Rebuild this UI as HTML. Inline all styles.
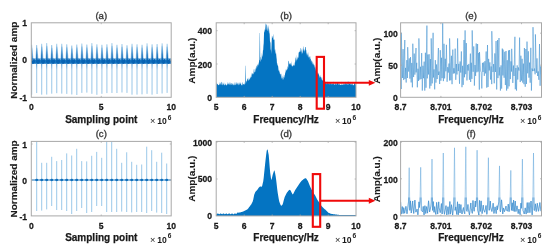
<!DOCTYPE html>
<html><head><meta charset="utf-8"><style>
html,body{margin:0;padding:0;background:#fff;}
svg{display:block;font-family:'Liberation Sans', Arial, sans-serif;}
</style></head><body>
<svg width="550" height="250" viewBox="0 0 550 250">
<rect width="550" height="250" fill="#fff"/>
<defs>
<clipPath id="c0t"><rect x="31.3" y="22.8" width="139.9" height="74.5"/></clipPath>
<clipPath id="c0b"><rect x="31.3" y="141.4" width="139.9" height="74.5"/></clipPath>
<clipPath id="c1t"><rect x="216.2" y="22.8" width="139.8" height="74.5"/></clipPath>
<clipPath id="c1b"><rect x="216.2" y="141.4" width="139.8" height="74.5"/></clipPath>
<clipPath id="c2t"><rect x="400.6" y="22.8" width="140.9" height="74.5"/></clipPath>
<clipPath id="c2b"><rect x="400.6" y="141.4" width="140.9" height="74.5"/></clipPath>
<linearGradient id="spk" gradientUnits="userSpaceOnUse" x1="0" y1="59.5" x2="0" y2="43"><stop offset="0" stop-color="#0867b6"/><stop offset="0.3" stop-color="#1a76c1"/><stop offset="0.65" stop-color="#5aa2d8"/><stop offset="1" stop-color="#9ccae9"/></linearGradient>
<linearGradient id="dwn" gradientUnits="userSpaceOnUse" x1="0" y1="63.5" x2="0" y2="70"><stop offset="0" stop-color="#3385c8"/><stop offset="1" stop-color="#93c3e6"/></linearGradient>
<clipPath id="c2bn"><rect x="400.6" y="197.5" width="140.9" height="18.4"/></clipPath>
</defs>
<g clip-path="url(#c0t)">
<rect x="31.3" y="58.4" width="139.9" height="1.4" fill="#4c97d3"/>
<rect x="31.3" y="59.6" width="139.9" height="4.2" fill="#1874bf"/>
<path d="M31.7 63.5V94.74" stroke="url(#dwn)" stroke-width="0.95"/>
<ellipse cx="33" cy="61.2" rx="1.9" ry="2.7" fill="#0763b3"/>
<path d="M30.1 60L31.2 47.63H32.3L33.7 60Z" fill="#7db5e0" opacity="0.55"/>
<path d="M31.05 60L31.3 44.63H32.1L32.65 60Z" fill="url(#spk)"/>
<path d="M36.71 63.5V93.06" stroke="url(#dwn)" stroke-width="0.95"/>
<ellipse cx="38.01" cy="61.2" rx="1.9" ry="2.7" fill="#0763b3"/>
<path d="M35.11 60L36.21 48.02H37.31L38.71 60Z" fill="#7db5e0" opacity="0.55"/>
<path d="M36.06 60L36.31 45.02H37.11L37.66 60Z" fill="url(#spk)"/>
<path d="M41.73 63.5V94.68" stroke="url(#dwn)" stroke-width="0.95"/>
<ellipse cx="43.03" cy="61.2" rx="1.9" ry="2.7" fill="#0763b3"/>
<path d="M40.13 60L41.23 46.78H42.33L43.73 60Z" fill="#7db5e0" opacity="0.55"/>
<path d="M41.08 60L41.33 43.78H42.13L42.68 60Z" fill="url(#spk)"/>
<path d="M46.74 63.5V94.55" stroke="url(#dwn)" stroke-width="0.95"/>
<ellipse cx="48.04" cy="61.2" rx="1.9" ry="2.7" fill="#0763b3"/>
<path d="M45.14 60L46.24 46.01H47.34L48.74 60Z" fill="#7db5e0" opacity="0.55"/>
<path d="M46.09 60L46.34 43.01H47.14L47.7 60Z" fill="url(#spk)"/>
<path d="M51.76 63.5V93.67" stroke="url(#dwn)" stroke-width="0.95"/>
<ellipse cx="53.06" cy="61.2" rx="1.9" ry="2.7" fill="#0763b3"/>
<path d="M50.16 60L51.26 48.07H52.36L53.76 60Z" fill="#7db5e0" opacity="0.55"/>
<path d="M51.11 60L51.36 45.07H52.16L52.71 60Z" fill="url(#spk)"/>
<path d="M56.77 63.5V93.2" stroke="url(#dwn)" stroke-width="0.95"/>
<ellipse cx="58.07" cy="61.2" rx="1.9" ry="2.7" fill="#0763b3"/>
<path d="M55.17 60L56.27 46.79H57.38L58.77 60Z" fill="#7db5e0" opacity="0.55"/>
<path d="M56.12 60L56.38 43.79H57.17L57.73 60Z" fill="url(#spk)"/>
<path d="M61.79 63.5V93.61" stroke="url(#dwn)" stroke-width="0.95"/>
<ellipse cx="63.09" cy="61.2" rx="1.9" ry="2.7" fill="#0763b3"/>
<path d="M60.19 60L61.29 46.66H62.39L63.79 60Z" fill="#7db5e0" opacity="0.55"/>
<path d="M61.14 60L61.39 43.66H62.19L62.74 60Z" fill="url(#spk)"/>
<path d="M66.8 63.5V93.88" stroke="url(#dwn)" stroke-width="0.95"/>
<ellipse cx="68.1" cy="61.2" rx="1.9" ry="2.7" fill="#0763b3"/>
<path d="M65.2 60L66.3 47.31H67.4L68.8 60Z" fill="#7db5e0" opacity="0.55"/>
<path d="M66.15 60L66.4 44.31H67.2L67.75 60Z" fill="url(#spk)"/>
<path d="M71.82 63.5V94.48" stroke="url(#dwn)" stroke-width="0.95"/>
<ellipse cx="73.12" cy="61.2" rx="1.9" ry="2.7" fill="#0763b3"/>
<path d="M70.22 60L71.32 48.59H72.42L73.82 60Z" fill="#7db5e0" opacity="0.55"/>
<path d="M71.17 60L71.42 45.59H72.22L72.77 60Z" fill="url(#spk)"/>
<path d="M76.83 63.5V94.97" stroke="url(#dwn)" stroke-width="0.95"/>
<ellipse cx="78.13" cy="61.2" rx="1.9" ry="2.7" fill="#0763b3"/>
<path d="M75.23 60L76.33 47.62H77.43L78.83 60Z" fill="#7db5e0" opacity="0.55"/>
<path d="M76.18 60L76.43 44.62H77.23L77.78 60Z" fill="url(#spk)"/>
<path d="M81.85 63.5V92.9" stroke="url(#dwn)" stroke-width="0.95"/>
<ellipse cx="83.15" cy="61.2" rx="1.9" ry="2.7" fill="#0763b3"/>
<path d="M80.25 60L81.35 46.56H82.45L83.85 60Z" fill="#7db5e0" opacity="0.55"/>
<path d="M81.2 60L81.45 43.56H82.25L82.8 60Z" fill="url(#spk)"/>
<path d="M86.86 63.5V92.61" stroke="url(#dwn)" stroke-width="0.95"/>
<ellipse cx="88.16" cy="61.2" rx="1.9" ry="2.7" fill="#0763b3"/>
<path d="M85.27 60L86.36 47.59H87.46L88.86 60Z" fill="#7db5e0" opacity="0.55"/>
<path d="M86.21 60L86.46 44.59H87.27L87.81 60Z" fill="url(#spk)"/>
<path d="M91.88 63.5V93.79" stroke="url(#dwn)" stroke-width="0.95"/>
<ellipse cx="93.18" cy="61.2" rx="1.9" ry="2.7" fill="#0763b3"/>
<path d="M90.28 60L91.38 46.09H92.48L93.88 60Z" fill="#7db5e0" opacity="0.55"/>
<path d="M91.23 60L91.48 43.09H92.28L92.83 60Z" fill="url(#spk)"/>
<path d="M96.89 63.5V94.79" stroke="url(#dwn)" stroke-width="0.95"/>
<ellipse cx="98.19" cy="61.2" rx="1.9" ry="2.7" fill="#0763b3"/>
<path d="M95.3 60L96.39 47.21H97.49L98.89 60Z" fill="#7db5e0" opacity="0.55"/>
<path d="M96.24 60L96.49 44.21H97.3L97.84 60Z" fill="url(#spk)"/>
<path d="M101.91 63.5V93.79" stroke="url(#dwn)" stroke-width="0.95"/>
<ellipse cx="103.21" cy="61.2" rx="1.9" ry="2.7" fill="#0763b3"/>
<path d="M100.31 60L101.41 47.64H102.51L103.91 60Z" fill="#7db5e0" opacity="0.55"/>
<path d="M101.26 60L101.51 44.64H102.31L102.86 60Z" fill="url(#spk)"/>
<path d="M106.92 63.5V93.12" stroke="url(#dwn)" stroke-width="0.95"/>
<ellipse cx="108.22" cy="61.2" rx="1.9" ry="2.7" fill="#0763b3"/>
<path d="M105.33 60L106.42 47.29H107.52L108.92 60Z" fill="#7db5e0" opacity="0.55"/>
<path d="M106.27 60L106.52 44.29H107.33L107.88 60Z" fill="url(#spk)"/>
<path d="M111.94 63.5V92.98" stroke="url(#dwn)" stroke-width="0.95"/>
<ellipse cx="113.24" cy="61.2" rx="1.9" ry="2.7" fill="#0763b3"/>
<path d="M110.34 60L111.44 46.03H112.54L113.94 60Z" fill="#7db5e0" opacity="0.55"/>
<path d="M111.29 60L111.54 43.03H112.34L112.89 60Z" fill="url(#spk)"/>
<path d="M116.95 63.5V93" stroke="url(#dwn)" stroke-width="0.95"/>
<ellipse cx="118.25" cy="61.2" rx="1.9" ry="2.7" fill="#0763b3"/>
<path d="M115.36 60L116.45 47.8H117.55L118.95 60Z" fill="#7db5e0" opacity="0.55"/>
<path d="M116.3 60L116.55 44.8H117.36L117.91 60Z" fill="url(#spk)"/>
<path d="M121.97 63.5V92.51" stroke="url(#dwn)" stroke-width="0.95"/>
<ellipse cx="123.27" cy="61.2" rx="1.9" ry="2.7" fill="#0763b3"/>
<path d="M120.37 60L121.47 46.96H122.57L123.97 60Z" fill="#7db5e0" opacity="0.55"/>
<path d="M121.32 60L121.57 43.96H122.37L122.92 60Z" fill="url(#spk)"/>
<path d="M126.98 63.5V92.89" stroke="url(#dwn)" stroke-width="0.95"/>
<ellipse cx="128.28" cy="61.2" rx="1.9" ry="2.7" fill="#0763b3"/>
<path d="M125.39 60L126.48 48.16H127.58L128.99 60Z" fill="#7db5e0" opacity="0.55"/>
<path d="M126.33 60L126.58 45.16H127.39L127.94 60Z" fill="url(#spk)"/>
<path d="M132 63.5V94.7" stroke="url(#dwn)" stroke-width="0.95"/>
<ellipse cx="133.3" cy="61.2" rx="1.9" ry="2.7" fill="#0763b3"/>
<path d="M130.4 60L131.5 46.7H132.6L134 60Z" fill="#7db5e0" opacity="0.55"/>
<path d="M131.35 60L131.6 43.7H132.4L132.95 60Z" fill="url(#spk)"/>
<path d="M137.01 63.5V94.62" stroke="url(#dwn)" stroke-width="0.95"/>
<ellipse cx="138.31" cy="61.2" rx="1.9" ry="2.7" fill="#0763b3"/>
<path d="M135.41 60L136.51 47.33H137.61L139.01 60Z" fill="#7db5e0" opacity="0.55"/>
<path d="M136.36 60L136.61 44.33H137.41L137.96 60Z" fill="url(#spk)"/>
<path d="M142.03 63.5V94.35" stroke="url(#dwn)" stroke-width="0.95"/>
<ellipse cx="143.33" cy="61.2" rx="1.9" ry="2.7" fill="#0763b3"/>
<path d="M140.43 60L141.53 47.66H142.63L144.03 60Z" fill="#7db5e0" opacity="0.55"/>
<path d="M141.38 60L141.63 44.66H142.43L142.98 60Z" fill="url(#spk)"/>
<path d="M147.04 63.5V93.85" stroke="url(#dwn)" stroke-width="0.95"/>
<ellipse cx="148.34" cy="61.2" rx="1.9" ry="2.7" fill="#0763b3"/>
<path d="M145.44 60L146.54 46.24H147.64L149.04 60Z" fill="#7db5e0" opacity="0.55"/>
<path d="M146.39 60L146.64 43.24H147.44L147.99 60Z" fill="url(#spk)"/>
<path d="M152.06 63.5V94.68" stroke="url(#dwn)" stroke-width="0.95"/>
<ellipse cx="153.36" cy="61.2" rx="1.9" ry="2.7" fill="#0763b3"/>
<path d="M150.46 60L151.56 47.32H152.66L154.06 60Z" fill="#7db5e0" opacity="0.55"/>
<path d="M151.41 60L151.66 44.32H152.46L153.01 60Z" fill="url(#spk)"/>
<path d="M157.07 63.5V94" stroke="url(#dwn)" stroke-width="0.95"/>
<ellipse cx="158.38" cy="61.2" rx="1.9" ry="2.7" fill="#0763b3"/>
<path d="M155.47 60L156.57 46.94H157.67L159.07 60Z" fill="#7db5e0" opacity="0.55"/>
<path d="M156.42 60L156.67 43.94H157.47L158.02 60Z" fill="url(#spk)"/>
<path d="M162.09 63.5V93.47" stroke="url(#dwn)" stroke-width="0.95"/>
<ellipse cx="163.39" cy="61.2" rx="1.9" ry="2.7" fill="#0763b3"/>
<path d="M160.49 60L161.59 46.15H162.69L164.09 60Z" fill="#7db5e0" opacity="0.55"/>
<path d="M161.44 60L161.69 43.15H162.49L163.04 60Z" fill="url(#spk)"/>
<path d="M167.1 63.5V92.88" stroke="url(#dwn)" stroke-width="0.95"/>
<ellipse cx="168.41" cy="61.2" rx="1.9" ry="2.7" fill="#0763b3"/>
<path d="M165.5 60L166.6 46.84H167.7L169.1 60Z" fill="#7db5e0" opacity="0.55"/>
<path d="M166.45 60L166.7 43.84H167.5L168.05 60Z" fill="url(#spk)"/>
</g>
<g clip-path="url(#c0b)">
<path d="M36.7 141.1V211" stroke="#96c6e8" stroke-width="0.95"/>
<path d="M41.7 162.8V210.6" stroke="#96c6e8" stroke-width="0.95"/>
<path d="M46.7 162.8V209.4" stroke="#96c6e8" stroke-width="0.95"/>
<path d="M51.7 156.8V206" stroke="#96c6e8" stroke-width="0.95"/>
<path d="M56.7 161.1V210" stroke="#96c6e8" stroke-width="0.95"/>
<path d="M61.7 160V210" stroke="#96c6e8" stroke-width="0.95"/>
<path d="M66.7 153.4V211" stroke="#96c6e8" stroke-width="0.95"/>
<path d="M71.7 155.5V214" stroke="#96c6e8" stroke-width="0.95"/>
<path d="M76.7 148.8V211" stroke="#96c6e8" stroke-width="0.95"/>
<path d="M81.7 161.1V208" stroke="#96c6e8" stroke-width="0.95"/>
<path d="M86.7 161.4V213" stroke="#96c6e8" stroke-width="0.95"/>
<path d="M91.7 155.8V212" stroke="#96c6e8" stroke-width="0.95"/>
<path d="M96.7 151.9V206" stroke="#96c6e8" stroke-width="0.95"/>
<path d="M101.7 157.8V206" stroke="#96c6e8" stroke-width="0.95"/>
<path d="M106.7 141.1V212" stroke="#96c6e8" stroke-width="0.95"/>
<path d="M111.7 141.8V212" stroke="#96c6e8" stroke-width="0.95"/>
<path d="M116.7 148.8V212" stroke="#96c6e8" stroke-width="0.95"/>
<path d="M121.7 162.8V211.6" stroke="#96c6e8" stroke-width="0.95"/>
<path d="M126.7 152.3V212" stroke="#96c6e8" stroke-width="0.95"/>
<path d="M131.7 161.8V212.4" stroke="#96c6e8" stroke-width="0.95"/>
<path d="M136.7 164.8V212" stroke="#96c6e8" stroke-width="0.95"/>
<path d="M141.7 164.5V212" stroke="#96c6e8" stroke-width="0.95"/>
<path d="M146.7 146.7V213" stroke="#96c6e8" stroke-width="0.95"/>
<path d="M151.7 150.2V211" stroke="#96c6e8" stroke-width="0.95"/>
<path d="M156.7 161.8V212.6" stroke="#96c6e8" stroke-width="0.95"/>
<path d="M161.7 152.7V213" stroke="#96c6e8" stroke-width="0.95"/>
<path d="M166.7 163.5V214" stroke="#96c6e8" stroke-width="0.95"/>
<path d="M31.3 180H171.2" stroke="#1a76c0" stroke-width="1.05"/>
<ellipse cx="36.7" cy="180" rx="1.5" ry="1.15" fill="#0d6dba"/>
<ellipse cx="41.7" cy="180" rx="1.5" ry="1.15" fill="#0d6dba"/>
<ellipse cx="46.7" cy="180" rx="1.5" ry="1.15" fill="#0d6dba"/>
<ellipse cx="51.7" cy="180" rx="1.5" ry="1.15" fill="#0d6dba"/>
<ellipse cx="56.7" cy="180" rx="1.5" ry="1.15" fill="#0d6dba"/>
<ellipse cx="61.7" cy="180" rx="1.5" ry="1.15" fill="#0d6dba"/>
<ellipse cx="66.7" cy="180" rx="1.5" ry="1.15" fill="#0d6dba"/>
<ellipse cx="71.7" cy="180" rx="1.5" ry="1.15" fill="#0d6dba"/>
<ellipse cx="76.7" cy="180" rx="1.5" ry="1.15" fill="#0d6dba"/>
<ellipse cx="81.7" cy="180" rx="1.5" ry="1.15" fill="#0d6dba"/>
<ellipse cx="86.7" cy="180" rx="1.5" ry="1.15" fill="#0d6dba"/>
<ellipse cx="91.7" cy="180" rx="1.5" ry="1.15" fill="#0d6dba"/>
<ellipse cx="96.7" cy="180" rx="1.5" ry="1.15" fill="#0d6dba"/>
<ellipse cx="101.7" cy="180" rx="1.5" ry="1.15" fill="#0d6dba"/>
<ellipse cx="106.7" cy="180" rx="1.5" ry="1.15" fill="#0d6dba"/>
<ellipse cx="111.7" cy="180" rx="1.5" ry="1.15" fill="#0d6dba"/>
<ellipse cx="116.7" cy="180" rx="1.5" ry="1.15" fill="#0d6dba"/>
<ellipse cx="121.7" cy="180" rx="1.5" ry="1.15" fill="#0d6dba"/>
<ellipse cx="126.7" cy="180" rx="1.5" ry="1.15" fill="#0d6dba"/>
<ellipse cx="131.7" cy="180" rx="1.5" ry="1.15" fill="#0d6dba"/>
<ellipse cx="136.7" cy="180" rx="1.5" ry="1.15" fill="#0d6dba"/>
<ellipse cx="141.7" cy="180" rx="1.5" ry="1.15" fill="#0d6dba"/>
<ellipse cx="146.7" cy="180" rx="1.5" ry="1.15" fill="#0d6dba"/>
<ellipse cx="151.7" cy="180" rx="1.5" ry="1.15" fill="#0d6dba"/>
<ellipse cx="156.7" cy="180" rx="1.5" ry="1.15" fill="#0d6dba"/>
<ellipse cx="161.7" cy="180" rx="1.5" ry="1.15" fill="#0d6dba"/>
<ellipse cx="166.7" cy="180" rx="1.5" ry="1.15" fill="#0d6dba"/>
</g>
<g clip-path="url(#c1t)"><polygon points="216.2,97.3 216.2,82.77 216.45,84.92 216.7,81.48 216.95,84.11 217.2,84.04 217.45,83.87 217.7,83.66 217.95,85.34 218.2,84.73 218.45,85.23 218.7,84.85 218.95,85.38 219.2,81.57 219.45,85.26 219.7,83.69 219.95,85.11 220.2,82.34 220.45,83.74 220.7,85.36 220.95,82.56 221.2,81.77 221.45,82.11 221.7,84.21 221.95,85.35 222.2,85.3 222.45,81.91 222.7,84.29 222.95,85.31 223.2,82.26 223.45,83.85 223.7,84.21 223.95,84.93 224.2,84.82 224.45,85.23 224.7,85.4 224.95,82.32 225.2,84.63 225.45,84.31 225.7,85.06 225.95,83.21 226.2,85.4 226.45,84.94 226.7,85.4 226.95,85.36 227.2,81.58 227.45,83.77 227.7,84.77 227.95,84.41 228.2,82.35 228.45,85.01 228.7,84.11 228.95,83.62 229.2,84.98 229.45,84.43 229.7,83.12 229.95,82.06 230.2,85.34 230.45,81.86 230.7,85.4 230.95,83.2 231.2,82.81 231.45,85.35 231.7,84.8 231.95,82.78 232.2,85.4 232.45,83.92 232.7,82.93 232.95,84.46 233.2,83.37 233.45,85.25 233.7,85.29 233.95,84.96 234.2,85.31 234.45,85.01 234.7,81.74 234.95,84.19 235.2,85.02 235.45,85.17 235.7,81.71 235.95,84.71 236.2,81.46 236.45,84.45 236.7,84.42 236.95,82.16 237.2,83.26 237.45,84.16 237.7,84.77 237.95,82.31 238.2,84.82 238.45,81.95 238.7,85.39 238.95,84.76 239.2,84.43 239.45,81.72 239.7,85.21 239.95,82.84 240.2,83.66 240.45,83.42 240.7,83.92 240.95,81.54 241.2,85.04 241.45,84.86 241.7,85.28 241.95,85.4 242.2,85.27 242.45,82.01 242.7,82.6 242.95,85.37 243.2,84.05 243.45,84.59 243.7,84.09 243.95,83.76 244.2,85.1 244.45,81.63 244.7,84.64 244.95,83.92 245.2,83.58 245.45,65.8 245.7,65.8 245.95,83.41 246.2,81.26 246.45,80.5 246.7,80.72 246.95,82.53 247.2,78.5 247.45,79.11 247.7,78.17 247.95,80.21 248.2,77.19 248.45,80.73 248.7,80.44 248.95,80.15 249.2,79.62 249.45,79.33 249.7,79.14 249.95,77.56 250.2,78.67 250.45,76.82 250.7,77.96 250.95,75.57 251.2,77.4 251.45,76.67 251.7,72.22 251.95,75.07 252.2,72.74 252.45,73.63 252.7,73.6 252.95,74.94 253.2,73.15 253.45,74.42 253.7,70.7 253.95,68.63 254.2,69.34 254.45,72.9 254.7,71.98 254.95,71.64 255.2,71.65 255.45,69.19 255.7,67.29 255.95,70.02 256.2,65.73 256.45,65.99 256.7,69.2 256.95,65.43 257.2,63.7 257.45,67.75 257.7,65.57 257.95,64.55 258.2,64.27 258.45,65.91 258.7,62.8 258.95,62.53 259.2,60.07 259.45,59.81 259.7,33.1 259.95,33.1 260.2,57.6 260.45,56.78 260.7,61.66 260.95,61.35 261.2,58.13 261.45,60.22 261.7,57.56 261.95,52.15 262.2,56.87 262.45,56.46 262.7,54.52 262.95,50.33 263.2,50.14 263.45,45.8 263.7,43.22 263.95,35.57 264.2,28.89 264.45,32.39 264.7,31.47 264.95,28.97 265.2,30.42 265.45,23.6 265.7,23.6 265.95,28.56 266.2,30.38 266.45,24.47 266.7,24.5 266.95,24.5 267.2,30.61 267.45,24.77 267.7,30.86 267.95,31.1 268.2,25.5 268.45,31.67 268.7,23.93 268.95,32.87 269.2,33.63 269.45,28.85 269.7,35.02 269.95,41.02 270.2,42.9 270.45,41.34 270.7,50.69 270.95,49.02 271.2,54.03 271.45,47.27 271.7,41.01 271.95,35.42 272.2,36.21 272.45,37.79 272.7,38.19 272.95,36.24 273.2,33.59 273.45,39.05 273.7,39.82 273.95,40.01 274.2,39.62 274.45,39.51 274.7,48.65 274.95,50.96 275.2,48.66 275.45,53.06 275.7,54.35 275.95,52.06 276.2,54.45 276.45,57.24 276.7,59.28 276.95,63.48 277.2,63.01 277.45,66.46 277.7,64.31 277.95,65.53 278.2,66.74 278.45,69.41 278.7,70.45 278.95,71.02 279.2,72.6 279.45,69.46 279.7,72.62 279.95,74.11 280.2,73.99 280.45,73.44 280.7,76 280.95,73.82 281.2,73.64 281.45,77.83 281.7,78.99 281.95,77.01 282.2,75.26 282.45,80.14 282.7,78.21 282.95,77.62 283.2,76.41 283.45,79.83 283.7,79.37 283.95,74.11 284.2,78.09 284.45,77.17 284.7,74.88 284.95,74.68 285.2,71.84 285.45,73.74 285.7,68.4 285.95,71.99 286.2,68.36 286.45,71.13 286.7,69.51 286.95,70.17 287.2,69.22 287.45,68.73 287.7,65.72 287.95,67.13 288.2,67.64 288.45,60.72 288.7,61.45 288.95,60.44 289.2,64.92 289.45,63.76 289.7,63.76 289.95,63.34 290.2,63.67 290.45,62.67 290.7,64.58 290.95,64.99 291.2,60.9 291.45,64.78 291.7,66.43 291.95,64.43 292.2,66.82 292.45,65.61 292.7,66.77 292.95,65.68 293.2,64.87 293.45,65.55 293.7,66.34 293.95,63.36 294.2,61.91 294.45,65.93 294.7,65.39 294.95,64.81 295.2,57.82 295.45,57.69 295.7,62.77 295.95,55.93 296.2,61.71 296.45,59.86 296.7,59.42 296.95,54.55 297.2,59.98 297.45,58.93 297.7,56.62 297.95,58.52 298.2,57.83 298.45,56.39 298.7,51.68 298.95,52.88 299.2,51.61 299.45,52.1 299.7,52.34 299.95,50.15 300.2,52.07 300.45,51.32 300.7,48 300.95,48 301.2,50.68 301.45,54.67 301.7,48.12 301.95,52.04 302.2,53.77 302.45,47.45 302.7,54.09 302.95,52.25 303.2,46.5 303.45,46.43 303.7,51.35 303.95,48.63 304.2,53.19 304.45,48.87 304.7,50.24 304.95,51.02 305.2,47.03 305.45,47 305.7,47 305.95,51 306.2,49.54 306.45,54.51 306.7,52.35 306.95,55.69 307.2,54.22 307.45,52.36 307.7,57.01 307.95,53.63 308.2,57.76 308.45,51.3 308.7,57.08 308.95,57.81 309.2,55.64 309.45,57.82 309.7,56.3 309.95,60.27 310.2,58.64 310.45,59.06 310.7,55.32 310.95,61.76 311.2,60.9 311.45,59.96 311.7,60.99 311.95,63.19 312.2,61.52 312.45,63.92 312.7,64.46 312.95,60.15 313.2,65.43 313.45,64.95 313.7,63.16 313.95,64.09 314.2,65.94 314.45,64.37 314.7,67.72 314.95,67.34 315.2,66.2 315.45,68.16 315.7,69.08 315.95,71.1 316.2,70.77 316.45,72.05 316.7,70.28 316.95,72.98 317.2,73.04 317.45,71.55 317.7,73.73 317.95,74.87 318.2,72.29 318.45,75.59 318.7,73.06 318.95,74.05 319.2,76.48 319.45,75.18 319.7,77.84 319.95,77.45 320.2,74.74 320.45,77.07 320.7,77.44 320.95,77.05 321.2,77.22 321.45,78.05 321.7,79.1 321.95,80.04 322.2,80.17 322.45,80.51 322.7,80.43 322.95,76.9 323.2,81.37 323.45,81.4 323.7,81.99 323.95,81.49 324.2,79.27 324.45,79.93 324.7,82.94 324.95,83.36 325.2,80.43 325.45,82.96 325.7,82.14 325.95,84.14 326.2,81.19 326.45,84.1 326.7,83.68 326.95,84.51 327.2,84.01 327.45,81.86 327.7,81.87 327.95,83.85 328.2,82.31 328.45,83.92 328.7,84.2 328.95,83.57 329.2,84.57 329.45,84.36 329.7,82.75 329.95,82.34 330.2,84.71 330.45,82.6 330.7,82.04 330.95,84.03 331.2,84.74 331.45,82.94 331.7,84.57 331.95,83.17 332.2,84.28 332.45,83.22 332.7,84.57 332.95,83.97 333.2,83.78 333.45,83.28 333.7,84.69 333.95,80.97 334.2,84.55 334.45,84.52 334.7,84.63 334.95,84.83 335.2,84.22 335.45,82.49 335.7,82.9 335.95,84.76 336.2,84.83 336.45,84.54 336.7,82.55 336.95,84.04 337.2,81.4 337.45,83.26 337.7,83.45 337.95,82.59 338.2,82.71 338.45,84.54 338.7,84.73 338.95,84.27 339.2,84.09 339.45,84.91 339.7,84.28 339.95,83.42 340.2,84.93 340.45,84.94 340.7,84.91 340.95,84.74 341.2,81.19 341.45,85.02 341.7,84.92 341.95,84.95 342.2,84.23 342.45,85.04 342.7,84.3 342.95,84.98 343.2,84.83 343.45,82.58 343.7,84.98 343.95,83.65 344.2,84.52 344.45,84.49 344.7,82.44 344.95,85.04 345.2,81.63 345.45,81.88 345.7,83.42 345.95,85.13 346.2,83.46 346.45,83.8 346.7,82.81 346.95,85.03 347.2,81.44 347.45,82 347.7,85.15 347.95,84.86 348.2,85.2 348.45,82.45 348.7,81.8 348.95,81.17 349.2,83.82 349.45,83.54 349.7,83.47 349.95,84.04 350.2,81.53 350.45,83.87 350.7,84.89 350.95,84.32 351.2,85.28 351.45,83.25 351.7,83.44 351.95,84.68 352.2,82.4 352.45,83.08 352.7,84.94 352.95,85.31 353.2,85.28 353.45,85.24 353.7,85.04 353.95,84.65 354.2,81.86 354.45,85.12 354.7,82.11 354.95,83.61 355.2,82.47 355.45,84.83 355.7,85.4 355.95,82.97 356,97.3" fill="#0474c2"/></g>
<g clip-path="url(#c1b)"><polygon points="216.2,215.9 216.2,214.18 216.7,214.08 217.2,213.67 217.7,213.4 218.2,213.57 218.7,213.98 219.2,214.2 219.7,213.98 220.2,213.56 220.7,213.41 221.2,213.68 221.7,214.09 222.2,214.18 222.7,213.86 223.2,213.47 223.7,213.45 224.2,213.8 224.7,214.16 225.2,214.12 225.7,213.73 226.2,213.42 226.7,213.52 227.2,213.93 227.7,214.2 228.2,214.03 228.7,213.61 229.2,213.4 229.7,213.62 230.2,214.04 230.7,214.19 231.2,213.92 231.7,213.51 232.2,213.42 232.7,213.74 233.2,214.13 233.7,214.15 234.2,213.79 234.7,213.44 235.2,213.48 235.7,213.87 236.2,214.02 236.7,213.52 237.2,212.81 237.7,212.39 238.2,212.4 238.7,212.66 239.2,212.72 239.7,212.34 240.2,212.41 240.7,212.25 241.2,212.1 241.7,211.94 242.2,211.79 242.7,211.63 243.2,211.43 243.7,211.22 244.2,211.02 244.7,210.81 245.2,210.6 245.7,210.31 246.2,210.02 246.7,209.72 247.2,209.43 247.7,209.07 248.2,208.4 248.7,207.73 249.2,207.07 249.7,206.4 250.2,205.73 250.7,205.07 251.2,204.4 251.7,203.4 252.2,202.4 252.7,201.4 253.2,199.8 253.7,197.3 254.2,194.8 254.7,193.55 255.2,192.3 255.7,191.5 256.2,191 256.7,190.5 257.2,190 257.7,189.22 258.2,188.44 258.7,187.66 259.2,187.18 259.7,186.78 260.2,186.38 260.7,186.45 261.2,186.64 261.7,186.83 262.2,185.64 262.7,183.54 263.2,181.44 263.7,177.67 264.2,172.8 264.7,167.93 265.2,163.24 265.7,158.83 266.2,154.43 266.7,150.67 267.2,149.5 267.7,149.85 268.2,152.46 268.7,155.08 269.2,160.83 269.7,167.37 270.2,172.73 270.7,176.31 271.2,179.88 271.7,178.95 272.2,176.88 272.7,174.81 273.2,173.23 273.7,171.76 274.2,170.29 274.7,171.26 275.2,173.86 275.7,176.46 276.2,180.14 276.7,184.55 277.2,188.96 277.7,192.77 278.2,195.71 278.7,198.65 279.2,201.28 279.7,202.68 280.2,204.08 280.7,205.26 281.2,205.56 281.7,205.65 282.2,204.9 282.7,204.15 283.2,202.47 283.7,200.55 284.2,198.63 284.7,196.91 285.2,195.95 285.7,194.99 286.2,194.03 286.7,193.08 287.2,192.26 287.7,191.65 288.2,191.04 288.7,190.43 289.2,189.82 289.7,189.88 290.2,190.11 290.7,190.78 291.2,191.73 291.7,192.69 292.2,193.65 292.7,194.61 293.2,194 293.7,193 294.2,192 294.7,191 295.2,190.05 295.7,189.29 296.2,188.53 296.7,187.77 297.2,187 297.7,186.24 298.2,185.48 298.7,184.72 299.2,183.96 299.7,183.2 300.2,182.59 300.7,181.98 301.2,181.37 301.7,180.77 302.2,180.25 302.7,179.88 303.2,179.5 303.7,179.12 304.2,178.75 304.7,178.51 305.2,178.35 305.7,178.19 306.2,178.41 306.7,179.19 307.2,179.97 307.7,180.74 308.2,181.87 308.7,183.07 309.2,184.28 309.7,185.49 310.2,186.7 310.7,187.7 311.2,188.7 311.7,189.7 312.2,190.7 312.7,191.6 313.2,192.37 313.7,193.13 314.2,193.89 314.7,194.65 315.2,195.6 315.7,196.6 316.2,197.6 316.7,198.6 317.2,199.55 317.7,200.31 318.2,201.07 318.7,201.83 319.2,202.6 319.7,203.34 320.2,204.07 320.7,204.8 321.2,205.52 321.7,206.25 322.2,206.8 322.7,207.3 323.2,207.8 323.7,208.3 324.2,208.78 324.7,209.2 325.2,209.61 325.7,210.02 326.2,210.43 326.7,210.9 327.2,211.4 327.7,211.9 328.2,212.4 328.7,212.9 329.2,213.1 329.7,213.29 330.2,213.49 330.7,213.68 331.2,213.83 331.7,213.9 332.2,213.98 332.7,214.05 333.2,214.13 333.7,214.2 334.2,214.28 334.7,214.35 335.2,214.43 335.7,214.5 336.2,214.55 336.7,214.61 337.2,214.66 337.7,214.72 338.2,214.77 338.7,214.83 339.2,214.88 339.7,214.93 340.2,214.99 340.7,215 341.2,215 341.7,215 342.2,215 342.7,215 343.2,215 343.7,215 344.2,215 344.7,215 345.2,215 345.7,215 346.2,215 346.7,215 347.2,215 347.7,215 348.2,215 348.7,215 349.2,215 349.7,215 350.2,215 350.7,215 351.2,215 351.7,215 352.2,215 352.7,215 353.2,215 353.7,215 354.2,215 354.7,215 355.2,215 355.7,215 356,215.9" fill="#0474c2"/></g>
<g clip-path="url(#c2t)"><polyline points="400.6,48.03 401.22,89.03 401.3,32.8 402.46,77.98 403.08,49.09 403.7,80.05 404.8,40 404.94,79.05 405.56,67.85 406.18,82.53 406.8,60.12 407.42,78.03 407.7,47.2 408.66,71.6 409.28,58.39 409.9,78.65 410.52,57.12 411.14,82.45 411.76,62.93 412.38,87.32 412.8,43.7 413.62,77.06 414.24,53.59 414.86,74.64 416,48 416.1,72.4 416.72,62.81 417.34,87.32 417.96,68.75 418.58,80.97 418.9,38.4 419.82,79.73 420.44,66.75 421.06,79.04 421.68,53.08 422.3,90.59 422.92,65.77 423.54,78.22 424.16,61.64 424.78,90.59 425.4,52.74 426.02,87.74 426.9,25.6 427.26,78.42 427.88,54.56 428.5,74.47 429.12,54.24 429.74,88.51 430.36,59.1 430.98,85.82 431.2,38.4 432.22,83.36 433.1,32.8 433.46,77.53 434.08,69.39 434.7,89.36 435.32,60.13 435.94,82.65 436.56,64.46 437.18,79.03 438.4,48 438.42,74.99 439.04,71.53 439.66,84.03 440.28,50.17 440.9,80.72 441.52,57.74 442.14,78.11 442.7,23.2 443.38,81.15 444,43.79 444.62,78.41 445.24,58.78 445.86,71.31 446.4,44.8 447.1,81.76 447.72,67.18 448.34,72.56 448.96,63.53 449.58,80.55 449.6,38.4 450.82,80.28 451.44,55.78 452.06,84.18 452.8,49.6 453.3,73.64 453.92,68.19 454.54,73.31 455.16,48.63 455.78,79.82 456.4,64.01 457.02,74.49 457.6,38.4 458.26,71.05 458.88,63.87 459.5,83.78 460.12,61.48 460.74,72.58 461.36,51.44 461.98,87.21 462.6,65.8 463.22,84.86 464,40 464.46,77.3 465.1,30.4 465.7,74.21 466.32,43.08 466.94,80.43 467.56,64.9 468.18,70.58 468.8,63.93 469.42,79.79 470.4,53.6 470.66,81.94 471.28,62.74 471.9,78.92 472.2,30.4 473.14,71.78 473.76,46.41 474.38,85.63 475,65.03 475.62,75.92 476.24,43.53 476.86,72.3 477.6,44 478.1,71.6 478.72,52.97 479.34,89.6 479.5,52 480.58,71.1 481.2,72.46 481.82,88.46 482.44,62.85 483.06,71.97 483.68,62.41 484.3,75.84 484.92,61.17 485.54,73.42 486.16,51.5 486.78,87.7 487.5,45 488.02,86.98 488.64,58.88 489.26,70.46 489.88,62.4 490.5,79.57 491.12,66.44 491.74,84.15 491.8,31.2 492.98,72.07 493.6,64.09 494.22,83.32 494.84,53.4 495.46,72 496.08,41.04 496.7,89.44 497.6,40 497.94,78.11 499,38 499.18,75.51 499.8,67.27 500.42,90.59 501.04,65.37 501.66,88.64 502.28,48.56 502.9,75.45 503,49.6 504.14,77.75 504.76,51.79 505.38,85.06 506,51 506.62,90.59 507.24,60.22 507.86,88.65 508.48,50.46 509.1,86.31 509.6,50 510.34,79.09 510.96,61.39 511.58,71.58 511.7,48.8 512.82,82.93 513.44,65.53 514.06,76 514.9,36.8 515.3,89.28 515.92,68.01 516.54,90.59 517.16,65.36 517.78,79.56 518.4,67.43 519.02,70.58 519.6,37.6 520.26,82.06 520.88,55.72 521.5,80.63 522.12,58.8 522.74,82.58 523.36,63.64 523.98,84.2 524.4,48 525.22,86.75 525.84,49.02 526.46,83.97 527,41.6 527.7,73.3 528.32,51.27 528.94,77.7 529.56,62.6 530.18,82.7 530.8,47.82 531.42,90.59 532.04,68.53 532.66,71.15 533,27.2 533.9,71.04 534.52,68.56 535.14,74.3 535.4,34.4 536.38,72.87 537,58.39 537.62,75.99 538.24,71.42 538.86,79.83 539.5,44 540.1,85.74 540.72,66.35 541.34,74.4" fill="none" stroke="#3189cc" stroke-width="0.5" stroke-linejoin="round"/></g>
<g clip-path="url(#c2b)"><polyline points="400.6,201.9 401.25,214.11 401.6,211.88 402.31,206.61 403.11,213.56 403.72,207.7 404.64,213.22 404.99,211.34 405.91,206.38 407.01,213.74 407.36,211.65 408.5,201.88 409.2,167.7 409.8,210.37 410.5,200.89 411.26,213.03 411.61,211.23 412.67,200.98 413.02,206.95 413.72,213.46 414.89,200.11 415.93,212.16 416.28,210.71 417.1,209.17 417.87,214.81 418.22,212.29 419.01,201.85 419.36,207.47 420,201.88 420.7,167.3 421.3,210.37 422.55,211.79 423.25,206.44 424.05,214.89 424.92,205.72 425.72,213.49 426.61,206.64 427.52,213.13 428.57,200.84 429.58,211.97 429.93,210.59 430.94,206.05 431.3,201.88 432,159.1 432.6,210.37 433.31,201.65 433.99,212.32 434.61,206.68 434.96,210.37 435.84,214.4 436.64,202.42 437.66,214.07 438.7,201.87 439.05,207.48 440.21,212.61 440.56,210.97 441.42,203.59 442.17,213.99 442.6,201.88 443.3,153 443.9,210.37 444.46,214.27 444.81,211.97 446,205.66 446.81,214.93 447.98,206.76 448.8,214.42 449.87,201.56 450.48,214.15 451.5,204.77 452.61,215.06 452.96,212.44 453.8,201.88 454.5,147.8 455.1,210.37 455.75,206.91 456.77,214.45 457.49,201.79 458.25,214.75 459.15,203.93 460.02,212.96 460.9,204.6 461.25,209.12 462.02,213.99 462.37,211.8 463.44,207.57 463.79,210.9 464.71,213.78 465.1,201.88 465.8,146.8 466.4,210.37 467.07,211.39 467.94,204.5 468.29,209.06 469.46,214.86 469.81,212.32 470.81,202.97 471.16,208.14 472.32,213.35 472.97,200.51 473.32,206.67 474.16,211.24 475.3,201.01 475.65,206.97 476.4,201.88 477.1,150.2 477.7,210.37 478.15,211.79 478.87,215.1 479.51,200.44 480.34,211.44 481.13,200.86 482.1,213.6 483.27,205.14 483.62,209.44 484.74,212.22 485.09,210.74 486.03,205.52 486.84,214.29 487.19,211.98 487.7,201.88 488.4,157.7 489,210.37 489.57,209.92 490.34,201.06 490.69,207 491.85,211.47 492.2,210.29 493.16,203.26 493.94,213.46 494.29,211.48 495.06,206.87 496.2,213.57 497.09,205.79 497.44,209.83 498.8,201.88 499.5,165.9 500.1,210.37 500.46,211.91 501.56,199.86 502.74,213.93 503.47,207.94 504.51,211.72 504.86,210.44 506.02,206.12 506.37,210.03 507.47,211.2 508.27,204.08 509.08,211.6 510.1,201.88 510.8,170.4 511.4,210.37 512.28,202.83 512.95,210.77 513.57,200.09 514.25,211.53 515.28,201.01 515.91,211.52 517.05,205.89 518.18,213.59 518.98,209.1 519.33,211.82 520.13,214.68 520.98,203.15 521.33,208.25 521.7,201.88 522.4,159.1 523,210.37 524.24,213.98 525.26,207.9 526.16,214.08 527.25,202.62 527.9,212.83 529.05,202.53 529.88,212.63 531.02,201.02 532.18,214.87 532.8,201.88 533.5,153 534.1,210.37 534.64,210.31 535.41,203.85 536.17,211.52 536.52,210.32 537.31,203.28 538.43,211.27 538.78,210.17 539.83,202.59 540.9,211.19" fill="none" stroke="#5ea5db" stroke-width="0.5" stroke-linejoin="round"/></g>
<g clip-path="url(#c2bn)"><polyline points="400.6,201.9 401.25,214.11 401.6,211.88 402.31,206.61 403.11,213.56 403.72,207.7 404.64,213.22 404.99,211.34 405.91,206.38 407.01,213.74 407.36,211.65 408.5,201.88 409.2,167.7 409.8,210.37 410.5,200.89 411.26,213.03 411.61,211.23 412.67,200.98 413.02,206.95 413.72,213.46 414.89,200.11 415.93,212.16 416.28,210.71 417.1,209.17 417.87,214.81 418.22,212.29 419.01,201.85 419.36,207.47 420,201.88 420.7,167.3 421.3,210.37 422.55,211.79 423.25,206.44 424.05,214.89 424.92,205.72 425.72,213.49 426.61,206.64 427.52,213.13 428.57,200.84 429.58,211.97 429.93,210.59 430.94,206.05 431.3,201.88 432,159.1 432.6,210.37 433.31,201.65 433.99,212.32 434.61,206.68 434.96,210.37 435.84,214.4 436.64,202.42 437.66,214.07 438.7,201.87 439.05,207.48 440.21,212.61 440.56,210.97 441.42,203.59 442.17,213.99 442.6,201.88 443.3,153 443.9,210.37 444.46,214.27 444.81,211.97 446,205.66 446.81,214.93 447.98,206.76 448.8,214.42 449.87,201.56 450.48,214.15 451.5,204.77 452.61,215.06 452.96,212.44 453.8,201.88 454.5,147.8 455.1,210.37 455.75,206.91 456.77,214.45 457.49,201.79 458.25,214.75 459.15,203.93 460.02,212.96 460.9,204.6 461.25,209.12 462.02,213.99 462.37,211.8 463.44,207.57 463.79,210.9 464.71,213.78 465.1,201.88 465.8,146.8 466.4,210.37 467.07,211.39 467.94,204.5 468.29,209.06 469.46,214.86 469.81,212.32 470.81,202.97 471.16,208.14 472.32,213.35 472.97,200.51 473.32,206.67 474.16,211.24 475.3,201.01 475.65,206.97 476.4,201.88 477.1,150.2 477.7,210.37 478.15,211.79 478.87,215.1 479.51,200.44 480.34,211.44 481.13,200.86 482.1,213.6 483.27,205.14 483.62,209.44 484.74,212.22 485.09,210.74 486.03,205.52 486.84,214.29 487.19,211.98 487.7,201.88 488.4,157.7 489,210.37 489.57,209.92 490.34,201.06 490.69,207 491.85,211.47 492.2,210.29 493.16,203.26 493.94,213.46 494.29,211.48 495.06,206.87 496.2,213.57 497.09,205.79 497.44,209.83 498.8,201.88 499.5,165.9 500.1,210.37 500.46,211.91 501.56,199.86 502.74,213.93 503.47,207.94 504.51,211.72 504.86,210.44 506.02,206.12 506.37,210.03 507.47,211.2 508.27,204.08 509.08,211.6 510.1,201.88 510.8,170.4 511.4,210.37 512.28,202.83 512.95,210.77 513.57,200.09 514.25,211.53 515.28,201.01 515.91,211.52 517.05,205.89 518.18,213.59 518.98,209.1 519.33,211.82 520.13,214.68 520.98,203.15 521.33,208.25 521.7,201.88 522.4,159.1 523,210.37 524.24,213.98 525.26,207.9 526.16,214.08 527.25,202.62 527.9,212.83 529.05,202.53 529.88,212.63 531.02,201.02 532.18,214.87 532.8,201.88 533.5,153 534.1,210.37 534.64,210.31 535.41,203.85 536.17,211.52 536.52,210.32 537.31,203.28 538.43,211.27 538.78,210.17 539.83,202.59 540.9,211.19" fill="none" stroke="#3a8bcd" stroke-width="0.55" stroke-linejoin="round"/></g>
<rect x="31.3" y="22.8" width="139.9" height="74.5" fill="none" stroke="#a8a8a8" stroke-width="1"/>
<path d="M101.25 97.3v-1.4M101.25 22.8v1.4" stroke="#a8a8a8" stroke-width="0.8"/>
<path d="M31.3 60.05h1.4M171.2 60.05h-1.4" stroke="#a8a8a8" stroke-width="0.8"/>
<rect x="31.3" y="141.4" width="139.9" height="74.5" fill="none" stroke="#a8a8a8" stroke-width="1"/>
<path d="M101.25 215.9v-1.4M101.25 141.4v1.4" stroke="#a8a8a8" stroke-width="0.8"/>
<path d="M31.3 144h1.4M171.2 144h-1.4" stroke="#a8a8a8" stroke-width="0.8"/>
<path d="M31.3 180h1.4M171.2 180h-1.4" stroke="#a8a8a8" stroke-width="0.8"/>
<rect x="216.2" y="22.8" width="139.8" height="74.5" fill="none" stroke="#a8a8a8" stroke-width="1"/>
<path d="M244.2 97.3v-1.4M244.2 22.8v1.4" stroke="#a8a8a8" stroke-width="0.8"/>
<path d="M272.2 97.3v-1.4M272.2 22.8v1.4" stroke="#a8a8a8" stroke-width="0.8"/>
<path d="M300.2 97.3v-1.4M300.2 22.8v1.4" stroke="#a8a8a8" stroke-width="0.8"/>
<path d="M328.2 97.3v-1.4M328.2 22.8v1.4" stroke="#a8a8a8" stroke-width="0.8"/>
<path d="M216.2 64h1.4M356 64h-1.4" stroke="#a8a8a8" stroke-width="0.8"/>
<path d="M216.2 30.7h1.4M356 30.7h-1.4" stroke="#a8a8a8" stroke-width="0.8"/>
<rect x="216.2" y="141.4" width="139.8" height="74.5" fill="none" stroke="#a8a8a8" stroke-width="1"/>
<path d="M244.2 215.9v-1.4M244.2 141.4v1.4" stroke="#a8a8a8" stroke-width="0.8"/>
<path d="M272.2 215.9v-1.4M272.2 141.4v1.4" stroke="#a8a8a8" stroke-width="0.8"/>
<path d="M300.2 215.9v-1.4M300.2 141.4v1.4" stroke="#a8a8a8" stroke-width="0.8"/>
<path d="M328.2 215.9v-1.4M328.2 141.4v1.4" stroke="#a8a8a8" stroke-width="0.8"/>
<path d="M216.2 179h1.4M356 179h-1.4" stroke="#a8a8a8" stroke-width="0.8"/>
<path d="M216.2 142.1h1.4M356 142.1h-1.4" stroke="#a8a8a8" stroke-width="0.8"/>
<rect x="400.6" y="22.8" width="140.9" height="74.5" fill="none" stroke="#a8a8a8" stroke-width="1"/>
<path d="M440.9 97.3v-1.4M440.9 22.8v1.4" stroke="#a8a8a8" stroke-width="0.8"/>
<path d="M481.2 97.3v-1.4M481.2 22.8v1.4" stroke="#a8a8a8" stroke-width="0.8"/>
<path d="M521.5 97.3v-1.4M521.5 22.8v1.4" stroke="#a8a8a8" stroke-width="0.8"/>
<path d="M400.6 65.2h1.4M541.5 65.2h-1.4" stroke="#a8a8a8" stroke-width="0.8"/>
<path d="M400.6 33.2h1.4M541.5 33.2h-1.4" stroke="#a8a8a8" stroke-width="0.8"/>
<rect x="400.6" y="141.4" width="140.9" height="74.5" fill="none" stroke="#a8a8a8" stroke-width="1"/>
<path d="M440.9 215.9v-1.4M440.9 141.4v1.4" stroke="#a8a8a8" stroke-width="0.8"/>
<path d="M481.2 215.9v-1.4M481.2 141.4v1.4" stroke="#a8a8a8" stroke-width="0.8"/>
<path d="M521.5 215.9v-1.4M521.5 141.4v1.4" stroke="#a8a8a8" stroke-width="0.8"/>
<path d="M400.6 178.8h1.4M541.5 178.8h-1.4" stroke="#a8a8a8" stroke-width="0.8"/>
<path d="M400.6 142.1h1.4M541.5 142.1h-1.4" stroke="#a8a8a8" stroke-width="0.8"/>
<rect x="316.7" y="56.9" width="7.3" height="51.8" fill="none" stroke="#f00a0a" stroke-width="2.1"/>
<path d="M324 82.85H370" stroke="#f00a0a" stroke-width="2.0"/>
<path d="M368.8 79.9L375.4 82.85L368.8 85.8Z" fill="#f00a0a"/>
<rect x="312.8" y="174.1" width="7.4" height="52.7" fill="none" stroke="#f00a0a" stroke-width="2.1"/>
<path d="M320.2 200.8H370" stroke="#f00a0a" stroke-width="2.0"/>
<path d="M368.8 197.85L375.4 200.8L368.8 203.75Z" fill="#f00a0a"/>
<text x="101.25" y="18.7" font-size="9.6" font-weight="normal" text-anchor="middle" fill="#3a3a3a" stroke="#3a3a3a" stroke-width="0.35">(a)</text>
<text x="101.25" y="137" font-size="9.6" font-weight="normal" text-anchor="middle" fill="#3a3a3a" stroke="#3a3a3a" stroke-width="0.35">(c)</text>
<text x="286.1" y="18.7" font-size="9.6" font-weight="normal" text-anchor="middle" fill="#3a3a3a" stroke="#3a3a3a" stroke-width="0.35">(b)</text>
<text x="286.1" y="137" font-size="9.6" font-weight="normal" text-anchor="middle" fill="#3a3a3a" stroke="#3a3a3a" stroke-width="0.35">(d)</text>
<text x="471.05" y="18.7" font-size="9.6" font-weight="normal" text-anchor="middle" fill="#3a3a3a" stroke="#3a3a3a" stroke-width="0.35">(e)</text>
<text x="471.05" y="137" font-size="9.6" font-weight="normal" text-anchor="middle" fill="#3a3a3a" stroke="#3a3a3a" stroke-width="0.35">(f)</text>
<text font-size="8.6" font-weight="bold" text-anchor="end" fill="#1a1a1a" stroke="#1a1a1a" stroke-width="0.25" transform="translate(27.1 26.3) scale(1 1.1)">1</text>
<text font-size="8.6" font-weight="bold" text-anchor="end" fill="#1a1a1a" stroke="#1a1a1a" stroke-width="0.25" transform="translate(27.1 63.35) scale(1 1.1)">0</text>
<text font-size="8.6" font-weight="bold" text-anchor="end" fill="#1a1a1a" stroke="#1a1a1a" stroke-width="0.25" transform="translate(27.1 100.6) scale(1 1.1)">-1</text>
<text font-size="8.6" font-weight="bold" text-anchor="end" fill="#1a1a1a" stroke="#1a1a1a" stroke-width="0.25" transform="translate(27.1 147.6) scale(1 1.1)">1</text>
<text font-size="8.6" font-weight="bold" text-anchor="end" fill="#1a1a1a" stroke="#1a1a1a" stroke-width="0.25" transform="translate(27.1 183.7) scale(1 1.1)">0</text>
<text font-size="8.6" font-weight="bold" text-anchor="end" fill="#1a1a1a" stroke="#1a1a1a" stroke-width="0.25" transform="translate(27.1 220.3) scale(1 1.1)">-1</text>
<text font-size="8.6" font-weight="bold" text-anchor="end" fill="#1a1a1a" stroke="#1a1a1a" stroke-width="0.25" transform="translate(212 34.4) scale(1 1.1)">400</text>
<text font-size="8.6" font-weight="bold" text-anchor="end" fill="#1a1a1a" stroke="#1a1a1a" stroke-width="0.25" transform="translate(212 67.6) scale(1 1.1)">200</text>
<text font-size="8.6" font-weight="bold" text-anchor="end" fill="#1a1a1a" stroke="#1a1a1a" stroke-width="0.25" transform="translate(212 100.9) scale(1 1.1)">0</text>
<text font-size="8.6" font-weight="bold" text-anchor="end" fill="#1a1a1a" stroke="#1a1a1a" stroke-width="0.25" transform="translate(212 146.1) scale(1 1.1)">1000</text>
<text font-size="8.6" font-weight="bold" text-anchor="end" fill="#1a1a1a" stroke="#1a1a1a" stroke-width="0.25" transform="translate(212 182.3) scale(1 1.1)">500</text>
<text font-size="8.6" font-weight="bold" text-anchor="end" fill="#1a1a1a" stroke="#1a1a1a" stroke-width="0.25" transform="translate(212 219.3) scale(1 1.1)">0</text>
<text font-size="8.6" font-weight="bold" text-anchor="end" fill="#1a1a1a" stroke="#1a1a1a" stroke-width="0.25" transform="translate(397.9 36.5) scale(1 1.1)">100</text>
<text font-size="8.6" font-weight="bold" text-anchor="end" fill="#1a1a1a" stroke="#1a1a1a" stroke-width="0.25" transform="translate(397.9 68.5) scale(1 1.1)">50</text>
<text font-size="8.6" font-weight="bold" text-anchor="end" fill="#1a1a1a" stroke="#1a1a1a" stroke-width="0.25" transform="translate(397.9 101.3) scale(1 1.1)">0</text>
<text font-size="8.6" font-weight="bold" text-anchor="end" fill="#1a1a1a" stroke="#1a1a1a" stroke-width="0.25" transform="translate(397.9 145.5) scale(1 1.1)">200</text>
<text font-size="8.6" font-weight="bold" text-anchor="end" fill="#1a1a1a" stroke="#1a1a1a" stroke-width="0.25" transform="translate(397.9 182.5) scale(1 1.1)">100</text>
<text font-size="8.6" font-weight="bold" text-anchor="end" fill="#1a1a1a" stroke="#1a1a1a" stroke-width="0.25" transform="translate(397.9 219.9) scale(1 1.1)">0</text>
<text font-size="8.6" font-weight="bold" text-anchor="middle" fill="#1a1a1a" stroke="#1a1a1a" stroke-width="0.25" transform="translate(31.3 110) scale(1 1.1)">0</text>
<text font-size="8.6" font-weight="bold" text-anchor="middle" fill="#1a1a1a" stroke="#1a1a1a" stroke-width="0.25" transform="translate(101.25 110) scale(1 1.1)">5</text>
<text font-size="8.6" font-weight="bold" text-anchor="middle" fill="#1a1a1a" stroke="#1a1a1a" stroke-width="0.25" transform="translate(171.2 110) scale(1 1.1)">10</text>
<text font-size="8.6" font-weight="bold" text-anchor="middle" fill="#1a1a1a" stroke="#1a1a1a" stroke-width="0.25" transform="translate(216.2 110) scale(1 1.1)">5</text>
<text font-size="8.6" font-weight="bold" text-anchor="middle" fill="#1a1a1a" stroke="#1a1a1a" stroke-width="0.25" transform="translate(244.2 110) scale(1 1.1)">6</text>
<text font-size="8.6" font-weight="bold" text-anchor="middle" fill="#1a1a1a" stroke="#1a1a1a" stroke-width="0.25" transform="translate(272.2 110) scale(1 1.1)">7</text>
<text font-size="8.6" font-weight="bold" text-anchor="middle" fill="#1a1a1a" stroke="#1a1a1a" stroke-width="0.25" transform="translate(300.2 110) scale(1 1.1)">8</text>
<text font-size="8.6" font-weight="bold" text-anchor="middle" fill="#1a1a1a" stroke="#1a1a1a" stroke-width="0.25" transform="translate(328.2 110) scale(1 1.1)">9</text>
<text font-size="8.6" font-weight="bold" text-anchor="middle" fill="#1a1a1a" stroke="#1a1a1a" stroke-width="0.25" transform="translate(356 110) scale(1 1.1)">10</text>
<text font-size="8.6" font-weight="bold" text-anchor="middle" fill="#1a1a1a" stroke="#1a1a1a" stroke-width="0.25" transform="translate(400.6 110) scale(1 1.1)">8.7</text>
<text font-size="8.6" font-weight="bold" text-anchor="middle" fill="#1a1a1a" stroke="#1a1a1a" stroke-width="0.25" transform="translate(440.9 110) scale(1 1.1)">8.701</text>
<text font-size="8.6" font-weight="bold" text-anchor="middle" fill="#1a1a1a" stroke="#1a1a1a" stroke-width="0.25" transform="translate(481.2 110) scale(1 1.1)">8.702</text>
<text font-size="8.6" font-weight="bold" text-anchor="middle" fill="#1a1a1a" stroke="#1a1a1a" stroke-width="0.25" transform="translate(521.5 110) scale(1 1.1)">8.703</text>
<text font-size="8.6" font-weight="bold" text-anchor="middle" fill="#1a1a1a" stroke="#1a1a1a" stroke-width="0.25" transform="translate(31.3 228.8) scale(1 1.1)">0</text>
<text font-size="8.6" font-weight="bold" text-anchor="middle" fill="#1a1a1a" stroke="#1a1a1a" stroke-width="0.25" transform="translate(101.25 228.8) scale(1 1.1)">5</text>
<text font-size="8.6" font-weight="bold" text-anchor="middle" fill="#1a1a1a" stroke="#1a1a1a" stroke-width="0.25" transform="translate(171.2 228.8) scale(1 1.1)">10</text>
<text font-size="8.6" font-weight="bold" text-anchor="middle" fill="#1a1a1a" stroke="#1a1a1a" stroke-width="0.25" transform="translate(216.2 228.8) scale(1 1.1)">5</text>
<text font-size="8.6" font-weight="bold" text-anchor="middle" fill="#1a1a1a" stroke="#1a1a1a" stroke-width="0.25" transform="translate(244.2 228.8) scale(1 1.1)">6</text>
<text font-size="8.6" font-weight="bold" text-anchor="middle" fill="#1a1a1a" stroke="#1a1a1a" stroke-width="0.25" transform="translate(272.2 228.8) scale(1 1.1)">7</text>
<text font-size="8.6" font-weight="bold" text-anchor="middle" fill="#1a1a1a" stroke="#1a1a1a" stroke-width="0.25" transform="translate(300.2 228.8) scale(1 1.1)">8</text>
<text font-size="8.6" font-weight="bold" text-anchor="middle" fill="#1a1a1a" stroke="#1a1a1a" stroke-width="0.25" transform="translate(328.2 228.8) scale(1 1.1)">9</text>
<text font-size="8.6" font-weight="bold" text-anchor="middle" fill="#1a1a1a" stroke="#1a1a1a" stroke-width="0.25" transform="translate(356 228.8) scale(1 1.1)">10</text>
<text font-size="8.6" font-weight="bold" text-anchor="middle" fill="#1a1a1a" stroke="#1a1a1a" stroke-width="0.25" transform="translate(400.6 228.8) scale(1 1.1)">8.7</text>
<text font-size="8.6" font-weight="bold" text-anchor="middle" fill="#1a1a1a" stroke="#1a1a1a" stroke-width="0.25" transform="translate(440.9 228.8) scale(1 1.1)">8.701</text>
<text font-size="8.6" font-weight="bold" text-anchor="middle" fill="#1a1a1a" stroke="#1a1a1a" stroke-width="0.25" transform="translate(481.2 228.8) scale(1 1.1)">8.702</text>
<text font-size="8.6" font-weight="bold" text-anchor="middle" fill="#1a1a1a" stroke="#1a1a1a" stroke-width="0.25" transform="translate(521.5 228.8) scale(1 1.1)">8.703</text>
<text x="101.25" y="122.5" font-size="10" font-weight="bold" text-anchor="middle" fill="#1a1a1a" stroke="#1a1a1a" stroke-width="0.25">Sampling point</text>
<text x="286.1" y="122.5" font-size="10" font-weight="bold" text-anchor="middle" fill="#1a1a1a" stroke="#1a1a1a" stroke-width="0.25">Frequency/Hz</text>
<text x="471" y="122.5" font-size="10" font-weight="bold" text-anchor="middle" fill="#1a1a1a" stroke="#1a1a1a" stroke-width="0.25">Frequency/Hz</text>
<text x="150.1" y="124.2" font-size="9.2" fill="#1a1a1a">×<tspan font-weight="bold" font-size="8.6" dx="1.7">10</tspan><tspan font-size="6.6" font-weight="bold" dx="0.9" dy="-4.4">6</tspan></text>
<text x="334.9" y="124.2" font-size="9.2" fill="#1a1a1a">×<tspan font-weight="bold" font-size="8.6" dx="1.7">10</tspan><tspan font-size="6.6" font-weight="bold" dx="0.9" dy="-4.4">6</tspan></text>
<text x="520.1" y="124.2" font-size="9.2" fill="#1a1a1a">×<tspan font-weight="bold" font-size="8.6" dx="1.7">10</tspan><tspan font-size="6.6" font-weight="bold" dx="0.9" dy="-4.4">6</tspan></text>
<text x="101.25" y="241" font-size="10" font-weight="bold" text-anchor="middle" fill="#1a1a1a" stroke="#1a1a1a" stroke-width="0.25">Sampling point</text>
<text x="286.1" y="241" font-size="10" font-weight="bold" text-anchor="middle" fill="#1a1a1a" stroke="#1a1a1a" stroke-width="0.25">Frequency/Hz</text>
<text x="471" y="241" font-size="10" font-weight="bold" text-anchor="middle" fill="#1a1a1a" stroke="#1a1a1a" stroke-width="0.25">Frequency/Hz</text>
<text x="150.1" y="242.7" font-size="9.2" fill="#1a1a1a">×<tspan font-weight="bold" font-size="8.6" dx="1.7">10</tspan><tspan font-size="6.6" font-weight="bold" dx="0.9" dy="-4.4">6</tspan></text>
<text x="334.9" y="242.7" font-size="9.2" fill="#1a1a1a">×<tspan font-weight="bold" font-size="8.6" dx="1.7">10</tspan><tspan font-size="6.6" font-weight="bold" dx="0.9" dy="-4.4">6</tspan></text>
<text x="520.1" y="242.7" font-size="9.2" fill="#1a1a1a">×<tspan font-weight="bold" font-size="8.6" dx="1.7">10</tspan><tspan font-size="6.6" font-weight="bold" dx="0.9" dy="-4.4">6</tspan></text>
<text font-size="10" font-weight="bold" text-anchor="middle" fill="#1a1a1a" stroke="#1a1a1a" stroke-width="0.18" transform="translate(16.7 60.2) rotate(-90) scale(1 0.93)">Normalized amp</text>
<text font-size="10" font-weight="bold" text-anchor="middle" fill="#1a1a1a" stroke="#1a1a1a" stroke-width="0.18" transform="translate(16.7 178.9) rotate(-90) scale(1 0.93)">Normalized amp</text>
<text font-size="10" font-weight="bold" text-anchor="middle" fill="#1a1a1a" stroke="#1a1a1a" stroke-width="0.12" transform="translate(194.6 60.6) rotate(-90) scale(1 0.9)">Amp(a.u.)</text>
<text font-size="10" font-weight="bold" text-anchor="middle" fill="#1a1a1a" stroke="#1a1a1a" stroke-width="0.12" transform="translate(195.2 178.7) rotate(-90) scale(1 0.9)">Amp(a.u.)</text>
<text font-size="10" font-weight="bold" text-anchor="middle" fill="#1a1a1a" stroke="#1a1a1a" stroke-width="0.12" transform="translate(379.6 60.8) rotate(-90) scale(1 0.9)">Amp(a.u.)</text>
<text font-size="10" font-weight="bold" text-anchor="middle" fill="#1a1a1a" stroke="#1a1a1a" stroke-width="0.12" transform="translate(379.6 179.2) rotate(-90) scale(1 0.9)">Amp(a.u.)</text>
</svg></body></html>
